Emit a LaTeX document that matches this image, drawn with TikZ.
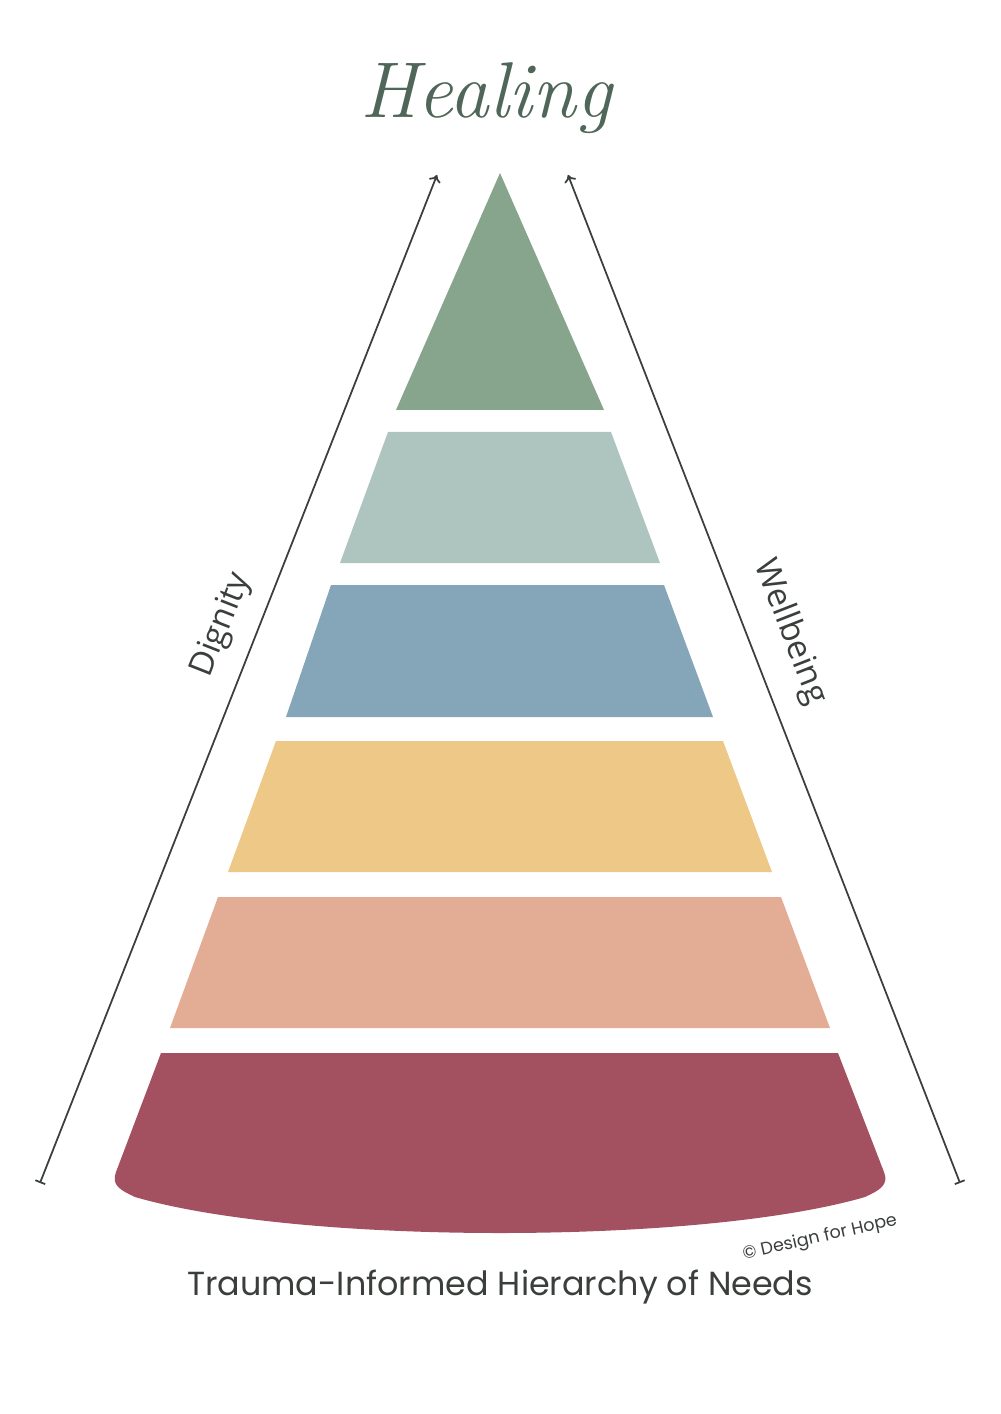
\documentclass[tikz,border=0pt]{standalone}
\usepackage{fontspec}
\usetikzlibrary{arrows.meta}
\newfontfamily\labelfont{Open Sans}
\newfontfamily\titlefont{Poppins}
\definecolor{tier_green}{RGB}{135,164,140}
\definecolor{tier_sage}{RGB}{173,196,191}
\definecolor{tier_blue}{RGB}{132,166,184}
\definecolor{tier_yellow}{RGB}{237,200,134}
\definecolor{tier_salmon}{RGB}{227,172,149}
\definecolor{tier_maroon}{RGB}{163,81,97}
\definecolor{line_gray}{RGB}{58,63,59}
\definecolor{heal_green}{RGB}{79,102,88}

\begin{document}
\begin{tikzpicture}[x=0.2mm,y=-0.2mm]
    \tikzstyle{side}=[draw=line_gray, line width=1pt, {Bar[width=6pt]}-{To[length=4pt,width=7pt]}]
    \tikzstyle{label}=[text=line_gray, font=\labelfont\fontsize{19}{22}\selectfont]
    \tikzstyle{title}=[text=line_gray, font=\titlefont\fontsize{19}{22}\selectfont]

    \useasboundingbox (0,0) rectangle (1000,1414);

    % pyramid, top to bottom
    \fill[tier_green]  (500,173) -- (604,410) -- (396,410) -- cycle;
    \fill[tier_sage]   (388,432) -- (611,432) -- (660,563) -- (340,563) -- cycle;
    \fill[tier_blue]   (331,585) -- (664,585) -- (713,717) -- (286,717) -- cycle;
    \fill[tier_yellow] (276,741) -- (723,741) -- (772,872) -- (228,872) -- cycle;
    \fill[tier_salmon] (218,897) -- (781,897) -- (830,1028) -- (170,1028) -- cycle;
    \fill[tier_maroon] (161,1053) -- (838,1053) -- (884,1172)
        .. controls (889,1185) and (880,1190) .. (865,1197)
        .. controls (700,1245) and (300,1245) .. (135,1197)
        .. controls (120,1190) and (111,1185) .. (116,1172) -- cycle;

    \coordinate (dig_bot)  at (40,1183);
    \coordinate (dig_top)  at (437,175);
    \coordinate (well_bot) at (960,1183);
    \coordinate (well_top) at (568,175);
    \path
     (dig_bot)  edge[side] (dig_top)
     (well_bot) edge[side] (well_top)
     ;

    \node[label, rotate=68.5]  (dig)  at (222,625) {Dignity};
    \node[label, rotate=-68.7] (well) at (790,632) {Wellbeing};
    \node[text=heal_green, font=\itshape\fontsize{45}{50}\selectfont] (heal) at (486,98) {Healing};
    \node[title] (name) at (500,1287) {Trauma-Informed Hierarchy of Needs};
    \node[text=line_gray, font=\titlefont\fontsize{10}{12}\selectfont, rotate=12.8] (copy) at (820,1238) {\textcopyright{} Design for Hope};
\end{tikzpicture}
\end{document}
